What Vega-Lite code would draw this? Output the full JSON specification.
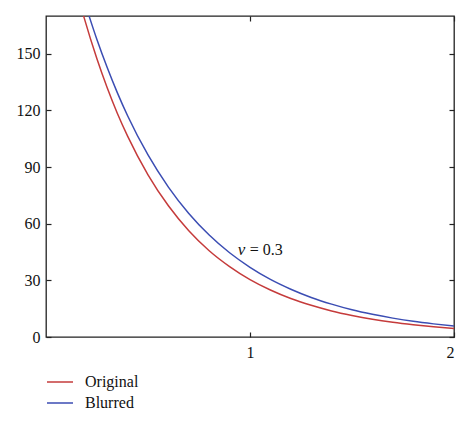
{
  "$schema": "https://vega.github.io/schema/vega-lite/v6.json",
  "width": 408,
  "height": 321,
  "autosize": "none",
  "padding": {"left": 46, "top": 16, "right": 20, "bottom": 102},
  "background": "white",
  "config": {
    "font": "Liberation Serif",
    "view": {"stroke": "#222222", "strokeWidth": 1.3},
    "axis": {
      "domain": false,
      "grid": false,
      "tickColor": "#222222",
      "tickSize": -5,
      "tickWidth": 1.2,
      "labelFont": "Liberation Serif",
      "labelFontSize": 16,
      "labelColor": "#111111",
      "title": null
    }
  },
  "datasets": {
    "curves": [
      {"x": 0.15, "y": 183.3, "series": "Original"},
      {"x": 0.186, "y": 169.4, "series": "Original"},
      {"x": 0.25, "y": 147.2, "series": "Original"},
      {"x": 0.3, "y": 132.0, "series": "Original"},
      {"x": 0.35, "y": 118.4, "series": "Original"},
      {"x": 0.4, "y": 106.4, "series": "Original"},
      {"x": 0.5, "y": 85.9, "series": "Original"},
      {"x": 0.6, "y": 69.5, "series": "Original"},
      {"x": 0.7, "y": 56.3, "series": "Original"},
      {"x": 0.8, "y": 45.7, "series": "Original"},
      {"x": 0.9, "y": 37.3, "series": "Original"},
      {"x": 1.0, "y": 30.4, "series": "Original"},
      {"x": 1.1, "y": 24.9, "series": "Original"},
      {"x": 1.2, "y": 20.4, "series": "Original"},
      {"x": 1.3, "y": 16.8, "series": "Original"},
      {"x": 1.4, "y": 13.8, "series": "Original"},
      {"x": 1.5, "y": 11.4, "series": "Original"},
      {"x": 1.6, "y": 9.4, "series": "Original"},
      {"x": 1.7, "y": 7.8, "series": "Original"},
      {"x": 1.8, "y": 6.5, "series": "Original"},
      {"x": 1.9, "y": 5.4, "series": "Original"},
      {"x": 2.0, "y": 4.5, "series": "Original"},
      {"x": 0.18, "y": 180.7, "series": "Blurred"},
      {"x": 0.213, "y": 169.4, "series": "Blurred"},
      {"x": 0.25, "y": 157.4, "series": "Blurred"},
      {"x": 0.3, "y": 142.7, "series": "Blurred"},
      {"x": 0.35, "y": 129.3, "series": "Blurred"},
      {"x": 0.4, "y": 117.2, "series": "Blurred"},
      {"x": 0.5, "y": 96.4, "series": "Blurred"},
      {"x": 0.6, "y": 79.4, "series": "Blurred"},
      {"x": 0.7, "y": 65.4, "series": "Blurred"},
      {"x": 0.8, "y": 54.0, "series": "Blurred"},
      {"x": 0.9, "y": 44.6, "series": "Blurred"},
      {"x": 1.0, "y": 36.9, "series": "Blurred"},
      {"x": 1.1, "y": 30.5, "series": "Blurred"},
      {"x": 1.2, "y": 25.3, "series": "Blurred"},
      {"x": 1.3, "y": 20.95, "series": "Blurred"},
      {"x": 1.4, "y": 17.4, "series": "Blurred"},
      {"x": 1.5, "y": 14.4, "series": "Blurred"},
      {"x": 1.6, "y": 12.0, "series": "Blurred"},
      {"x": 1.7, "y": 10.0, "series": "Blurred"},
      {"x": 1.8, "y": 8.3, "series": "Blurred"},
      {"x": 1.9, "y": 6.95, "series": "Blurred"},
      {"x": 2.0, "y": 5.8, "series": "Blurred"}
    ],
    "ann": [{"x": 0.94, "y": 46, "nu": "ν", "rest": "= 0.3"}]
  },
  "resolve": {"axis": {"x": "independent", "y": "independent"}},
  "layer": [
    {
      "data": {"name": "curves"},
      "mark": {"type": "line", "clip": true, "strokeWidth": 1.5, "interpolate": "monotone"},
      "encoding": {
        "x": {"field": "x", "type": "quantitative", "scale": {"domain": [0, 2], "nice": false},
              "axis": {"orient": "bottom", "values": [1, 2], "labelPadding": 12}},
        "y": {"field": "y", "type": "quantitative", "scale": {"domain": [0, 170], "nice": false},
              "axis": {"orient": "left", "values": [0, 30, 60, 90, 120, 150], "labelPadding": 11}},
        "color": {
          "field": "series", "type": "nominal",
          "scale": {"domain": ["Original", "Blurred"], "range": ["#c53b3b", "#3b4db3"]},
          "legend": {
            "orient": "none", "legendX": 0, "legendY": 358,
            "title": null, "direction": "vertical",
            "symbolType": "stroke", "symbolSize": 676, "symbolStrokeWidth": 1.5,
            "labelFont": "Liberation Serif", "labelFontSize": 16, "labelColor": "#111111",
            "labelOffset": 11, "clipHeight": 16, "rowPadding": 5
          }
        }
      }
    },
    {
      "data": {"name": "curves"},
      "mark": {"type": "line", "opacity": 0},
      "encoding": {
        "x": {"field": "x", "type": "quantitative", "scale": {"domain": [0, 2], "nice": false},
              "axis": {"orient": "top", "values": [1, 2], "labels": false}},
        "y": {"field": "y", "type": "quantitative", "scale": {"domain": [0, 170], "nice": false},
              "axis": {"orient": "right", "values": [0, 30, 60, 90, 120, 150], "labels": false}}
      }
    },
    {
      "data": {"name": "ann"},
      "mark": {"type": "text", "align": "left", "baseline": "middle", "fontSize": 17, "fontStyle": "italic", "font": "Liberation Serif", "color": "#111111"},
      "encoding": {
        "x": {"field": "x", "type": "quantitative", "axis": null},
        "y": {"field": "y", "type": "quantitative", "axis": null},
        "text": {"field": "nu"}
      }
    },
    {
      "data": {"name": "ann"},
      "mark": {"type": "text", "align": "left", "baseline": "middle", "dx": 12, "fontSize": 16, "font": "Liberation Serif", "color": "#111111"},
      "encoding": {
        "x": {"field": "x", "type": "quantitative", "axis": null},
        "y": {"field": "y", "type": "quantitative", "axis": null},
        "text": {"field": "rest"}
      }
    }
  ]
}
